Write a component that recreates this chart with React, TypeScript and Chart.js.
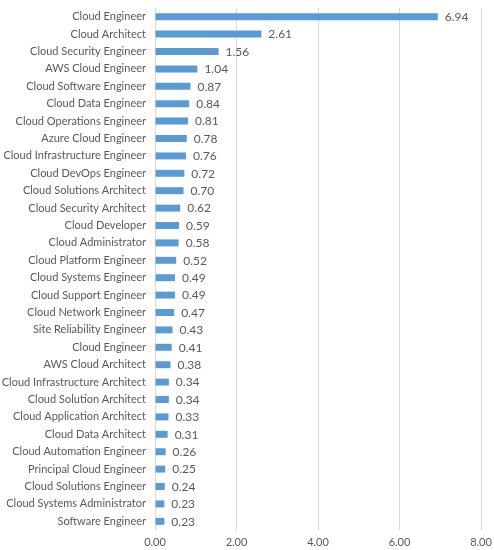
import React, { useEffect, useRef } from "react";
import { Chart, registerables } from "chart.js";

Chart.register(...registerables);

const categories: string[] = [
  "Cloud Engineer",
  "Cloud Architect",
  "Cloud Security Engineer",
  "AWS Cloud Engineer",
  "Cloud Software Engineer",
  "Cloud Data Engineer",
  "Cloud Operations Engineer",
  "Azure Cloud Engineer",
  "Cloud Infrastructure Engineer",
  "Cloud DevOps Engineer",
  "Cloud Solutions Architect",
  "Cloud Security Architect",
  "Cloud Developer",
  "Cloud Administrator",
  "Cloud Platform Engineer",
  "Cloud Systems Engineer",
  "Cloud Support Engineer",
  "Cloud Network Engineer",
  "Site Reliability Engineer",
  "Cloud Engineer",
  "AWS Cloud Architect",
  "Cloud Infrastructure Architect",
  "Cloud Solution Architect",
  "Cloud Application Architect",
  "Cloud Data Architect",
  "Cloud Automation Engineer",
  "Principal Cloud Engineer",
  "Cloud Solutions Engineer",
  "Cloud Systems Administrator",
  "Software Engineer",
];

const values: number[] = [
  6.94, 2.61, 1.56, 1.04, 0.87, 0.84, 0.81, 0.78, 0.76, 0.72, 0.7, 0.62, 0.59,
  0.58, 0.52, 0.49, 0.49, 0.47, 0.43, 0.41, 0.38, 0.34, 0.34, 0.33, 0.31, 0.26,
  0.25, 0.24, 0.23, 0.23,
];

const xTicks: number[] = [0, 2, 4, 6, 8];

const FONT = "Lato, 'Noto Sans', sans-serif";
const TEXT = "#595959";

export default function App() {
  const ref = useRef<HTMLCanvasElement | null>(null);

  useEffect(() => {
    document.body.style.margin = "0";
    if (!ref.current) return;

    const labelPlugin = {
      id: "valueLabels",
      afterDatasetsDraw(chart: any) {
        const ctx = chart.ctx;
        const meta = chart.getDatasetMeta(0);
        ctx.save();
        ctx.fillStyle = TEXT;
        ctx.font = `12px ${FONT}`;
        ctx.textAlign = "left";
        ctx.textBaseline = "middle";
        meta.data.forEach((bar: any, i: number) => {
          ctx.fillText(values[i].toFixed(2), bar.x + 7, bar.y + 0.5);
        });
        ctx.restore();
      },
    };

    const chart = new Chart(ref.current, {
      type: "bar",
      data: {
        labels: categories,
        datasets: [
          {
            data: values,
            backgroundColor: "#5B9BD5",
            borderWidth: 0,
            barPercentage: 0.8,
            categoryPercentage: 0.5,
          },
        ],
      },
      options: {
        indexAxis: "y",
        animation: false,
        responsive: false,
        maintainAspectRatio: false,
        devicePixelRatio: 1,
        layout: { padding: { top: 8, right: 13, bottom: 0, left: 0 } },
        plugins: {
          legend: { display: false },
          tooltip: { enabled: false },
        },
        scales: {
          x: {
            min: 0,
            max: 8,
            afterBuildTicks: (s: any) => {
              s.ticks = xTicks.map((v) => ({ value: v }));
            },
            afterFit: (s: any) => {
              s.height = 20;
              s.paddingLeft = 0;
              s.paddingRight = 0;
            },
            grid: { color: "#d9d9d9", lineWidth: 1, drawTicks: false },
            border: { display: false },
            ticks: {
              color: TEXT,
              font: { family: FONT, size: 11 },
              padding: 6,
              callback: (v: any) => Number(v).toFixed(2),
            },
          },
          y: {
            afterFit: (s: any) => {
              s.width = 155;
              s.paddingTop = 0;
              s.paddingBottom = 0;
            },
            grid: { display: false, drawTicks: false },
            border: { display: false },
            ticks: {
              color: TEXT,
              font: { family: FONT, size: 11 },
              padding: 9,
              autoSkip: false,
            },
          },
        },
      },
      plugins: [labelPlugin],
    });

    return () => chart.destroy();
  }, []);

  return (
    <div style={{ width: 494, height: 550, background: "#fff" }}>
      <canvas ref={ref} width={494} height={550} style={{ display: "block" }} />
    </div>
  );
}
